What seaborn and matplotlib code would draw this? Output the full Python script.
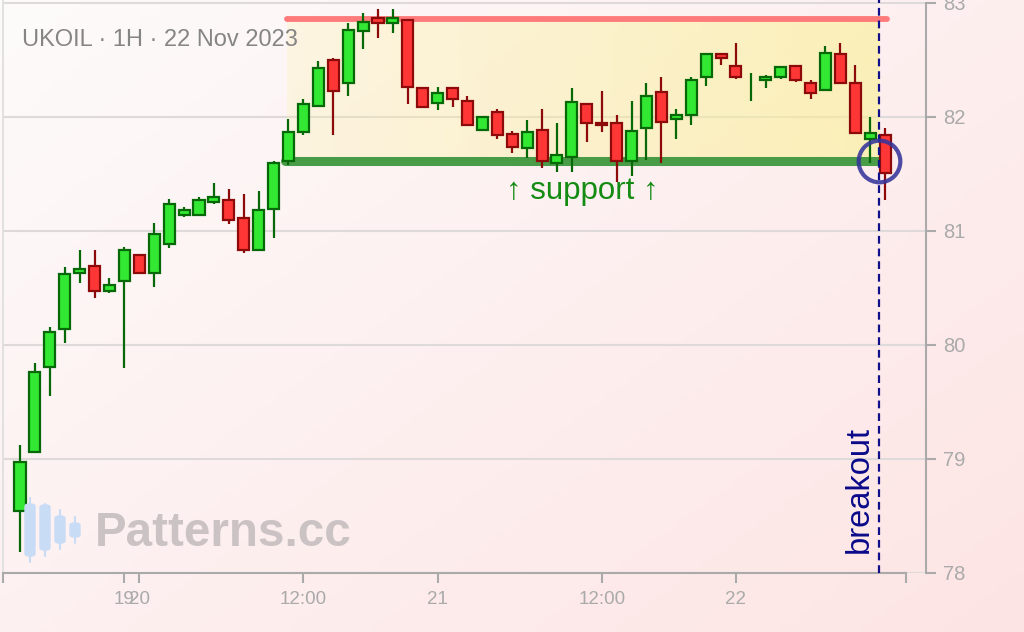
import numpy as np
import matplotlib
matplotlib.use("Agg")
import matplotlib.pyplot as plt
import seaborn as sns
from matplotlib.patches import FancyBboxPatch

# UKOIL 1H candles
opens = [78.54, 79.06, 79.81, 80.14, 80.63, 80.69, 80.47, 80.56, 80.79, 80.63,
         80.89, 81.14, 81.14, 81.25, 81.27, 81.11, 80.83, 81.19, 81.61, 81.87,
         82.10, 82.50, 82.30, 82.75, 82.87, 82.82, 82.85, 82.25, 82.12, 82.25,
         82.14, 81.89, 82.04, 81.85, 81.73, 81.89, 81.60, 81.65, 82.11, 81.95,
         81.95, 81.61, 81.90, 82.22, 81.98, 82.02, 82.35, 82.55, 82.45, 82.30,
         82.32, 82.35, 82.45, 82.30, 82.24, 82.55, 82.30, 81.81, 81.84]
highs = [79.12, 79.84, 80.16, 80.68, 80.83, 80.83, 80.59, 80.86, 80.80, 81.07,
         81.28, 81.21, 81.30, 81.42, 81.37, 81.32, 81.35, 81.61, 81.98, 82.16,
         82.49, 82.52, 82.82, 82.91, 82.95, 82.95, 82.85, 82.26, 82.26, 82.26,
         82.18, 82.01, 82.07, 81.88, 81.97, 82.07, 81.95, 82.25, 82.12, 82.23,
         82.02, 82.14, 82.30, 82.35, 82.07, 82.35, 82.55, 82.55, 82.65, 82.39,
         82.37, 82.45, 82.46, 82.32, 82.62, 82.65, 82.46, 82.00, 81.90]
lows = [78.18, 79.05, 79.55, 80.02, 80.54, 80.41, 80.46, 79.80, 80.62, 80.51,
        80.85, 81.12, 81.14, 81.24, 81.06, 80.81, 80.82, 80.94, 81.58, 81.84,
        82.09, 81.84, 82.18, 82.60, 82.69, 82.74, 82.11, 82.08, 82.06, 82.09,
        81.93, 81.88, 81.81, 81.68, 81.64, 81.55, 81.52, 81.52, 81.78, 81.87,
        81.43, 81.48, 81.62, 81.60, 81.81, 81.93, 82.27, 82.46, 82.33, 82.14,
        82.25, 82.33, 82.31, 82.16, 82.24, 82.29, 81.85, 81.60, 81.27]
closes = [78.97, 79.76, 80.11, 80.62, 80.67, 80.47, 80.53, 80.83, 80.63, 80.97,
          81.24, 81.18, 81.27, 81.30, 81.10, 80.83, 81.18, 81.60, 81.87, 82.11,
          82.43, 82.23, 82.76, 82.83, 82.82, 82.87, 82.26, 82.09, 82.21, 82.16,
          81.93, 82.00, 81.84, 81.74, 81.87, 81.61, 81.67, 82.13, 81.95, 81.93,
          81.61, 81.88, 82.18, 81.96, 82.02, 82.32, 82.55, 82.52, 82.35, 82.30,
          82.35, 82.44, 82.32, 82.21, 82.56, 82.30, 81.86, 81.86, 81.51]

tick_pos = [7, 8, 19, 28, 39, 48]
tick_labels = ["19", "20", "12:00", "21", "12:00", "22"]
y_ticks = [78, 79, 80, 81, 82, 83]

resistance = 82.86
support = 81.615
pattern_start = 17.9
breakout_idx = 57.6

sns.set_theme(style="white")
plt.rcParams['font.family'] = ['Liberation Sans', 'DejaVu Sans']

fig = plt.figure(figsize=(10.24, 6.32), dpi=100)

# background gradient
bg = fig.add_axes([0, 0, 1, 1], zorder=-10)
gx, gy = np.meshgrid(np.linspace(0, 1, 200), np.linspace(0, 1, 200))
t = np.clip((gx * 0.65 + gy * 0.55) / 1.2, 0, 1)[..., None]
c0 = np.array([254, 251, 251]) / 255
c1 = np.array([253, 228, 228]) / 255
bg.imshow(c0 + (c1 - c0) * t, aspect="auto", extent=[0, 1, 0, 1], origin="upper")
bg.axis("off")

ax = fig.add_axes([3 / 1024, 59 / 632, 923 / 1024, 573 / 632])
ax.patch.set_alpha(0)

x = np.arange(len(opens))
o = np.array(opens); h = np.array(highs); l = np.array(lows); c = np.array(closes)
up = c >= o
face = np.where(up, "#33e833", "#ff3636")
edge = np.where(up, "#066806", "#8c0a0a")

# yellow zone
grad = np.zeros((2, 200, 4))
grad[..., 0] = 250 / 255
grad[..., 1] = 240 / 255
grad[..., 2] = 150 / 255
grad[..., 3] = np.linspace(0.22, 0.62, 200)
ax.imshow(grad, aspect="auto", extent=[pattern_start, breakout_idx, support, resistance],
          origin="lower", zorder=1)

ax.plot([pattern_start, 58.15], [resistance, resistance], color="#ff7a7a", lw=4.2, zorder=2)
ax.plot([pattern_start - 0.15, breakout_idx + 0.05], [support, support], color="#3f983f",
        lw=6.5, alpha=0.95, zorder=2, solid_capstyle="round")

ax.vlines(x, l, h, colors=edge, lw=1.6, zorder=3)
body = np.abs(c - o) > 0
ax.bar(x[body], np.abs(c - o)[body], bottom=np.minimum(o, c)[body], width=0.74,
       color=face[body], edgecolor=edge[body], linewidth=1.6, zorder=4)

ax.axvline(breakout_idx, color="#10108a", lw=1.6, ls=(0, (3.5, 2.2)), zorder=5)
ax.plot([breakout_idx], [81.617], marker="o", ms=30, mfc="none", mec="#34349a",
        mew=3.0, alpha=0.88, zorder=6)
ax.text(56.25, 78.175, "breakout", rotation=90, ha="center", va="bottom",
        fontsize=23.5, color="#0a0a8a", zorder=6)
ax.text(37.68, 81.35, "↑ support ↑", ha="center", va="center", fontsize=22.5,
        color="#148c14", zorder=6)

ax.set_xlim(-1.14, 60.74)
ax.set_ylim(78, 83.026)
ax.set_xticks([-1.14] + tick_pos + [59.4])
ax.set_xticklabels([""] + tick_labels + [""])
ax.yaxis.tick_right()
ax.set_yticks(y_ticks)
ax.set_yticklabels([str(v) for v in y_ticks])
ax.tick_params(axis="x", length=7, width=1.5, color="#aaaaaa", labelcolor="#aaaaaa",
               labelsize=13.5, pad=6, bottom=True)
ax.tick_params(axis="y", length=7, width=1.5, color="#aaaaaa", labelcolor="#aaaaaa",
               labelsize=14.5, pad=5, right=True)
ax.yaxis.grid(True, color="#dedada", lw=1.5)
ax.xaxis.grid(False)
ax.set_axisbelow(True)
ax.spines["top"].set_visible(False)
ax.spines["left"].set_color("#dddddd")
ax.spines["left"].set_linewidth(1.2)
ax.spines["bottom"].set_color("#aaaaaa")
ax.spines["bottom"].set_linewidth(1.5)
ax.spines["bottom"].set_bounds(-1.14, 59.4)
ax.spines["right"].set_color("#aaaaaa")
ax.spines["right"].set_linewidth(1.5)
ax.spines["right"].set_bounds(78, 83)

fig.text(22 / 1024, 1 - 40 / 632, "UKOIL · 1H · 22 Nov 2023", fontsize=17,
         color="#858585", va="center", ha="left")

# watermark
for cx, y0, y1, b0, b1 in [(30, 498, 562, 504, 556), (45, 504, 556, 505, 550),
                           (60, 510, 549, 516, 543), (75, 517, 543, 523, 537)]:
    fig.add_artist(plt.Line2D([cx / 1024] * 2, [1 - y0 / 632, 1 - y1 / 632],
                              color="#c8dcf6", lw=1.5, transform=fig.transFigure))
    fig.add_artist(FancyBboxPatch(((cx - 5) / 1024, 1 - b1 / 632), 10 / 1024,
                                  (b1 - b0) / 632, boxstyle="round,pad=0,rounding_size=0.004",
                                  color="#c8dcf6", transform=fig.transFigure))
fig.text(95 / 1024, 1 - 533 / 632, "Patterns.cc", fontsize=34.3, fontweight="bold",
         color="#cbc3c3", va="center", ha="left")

fig.savefig("out.png", dpi=100)
